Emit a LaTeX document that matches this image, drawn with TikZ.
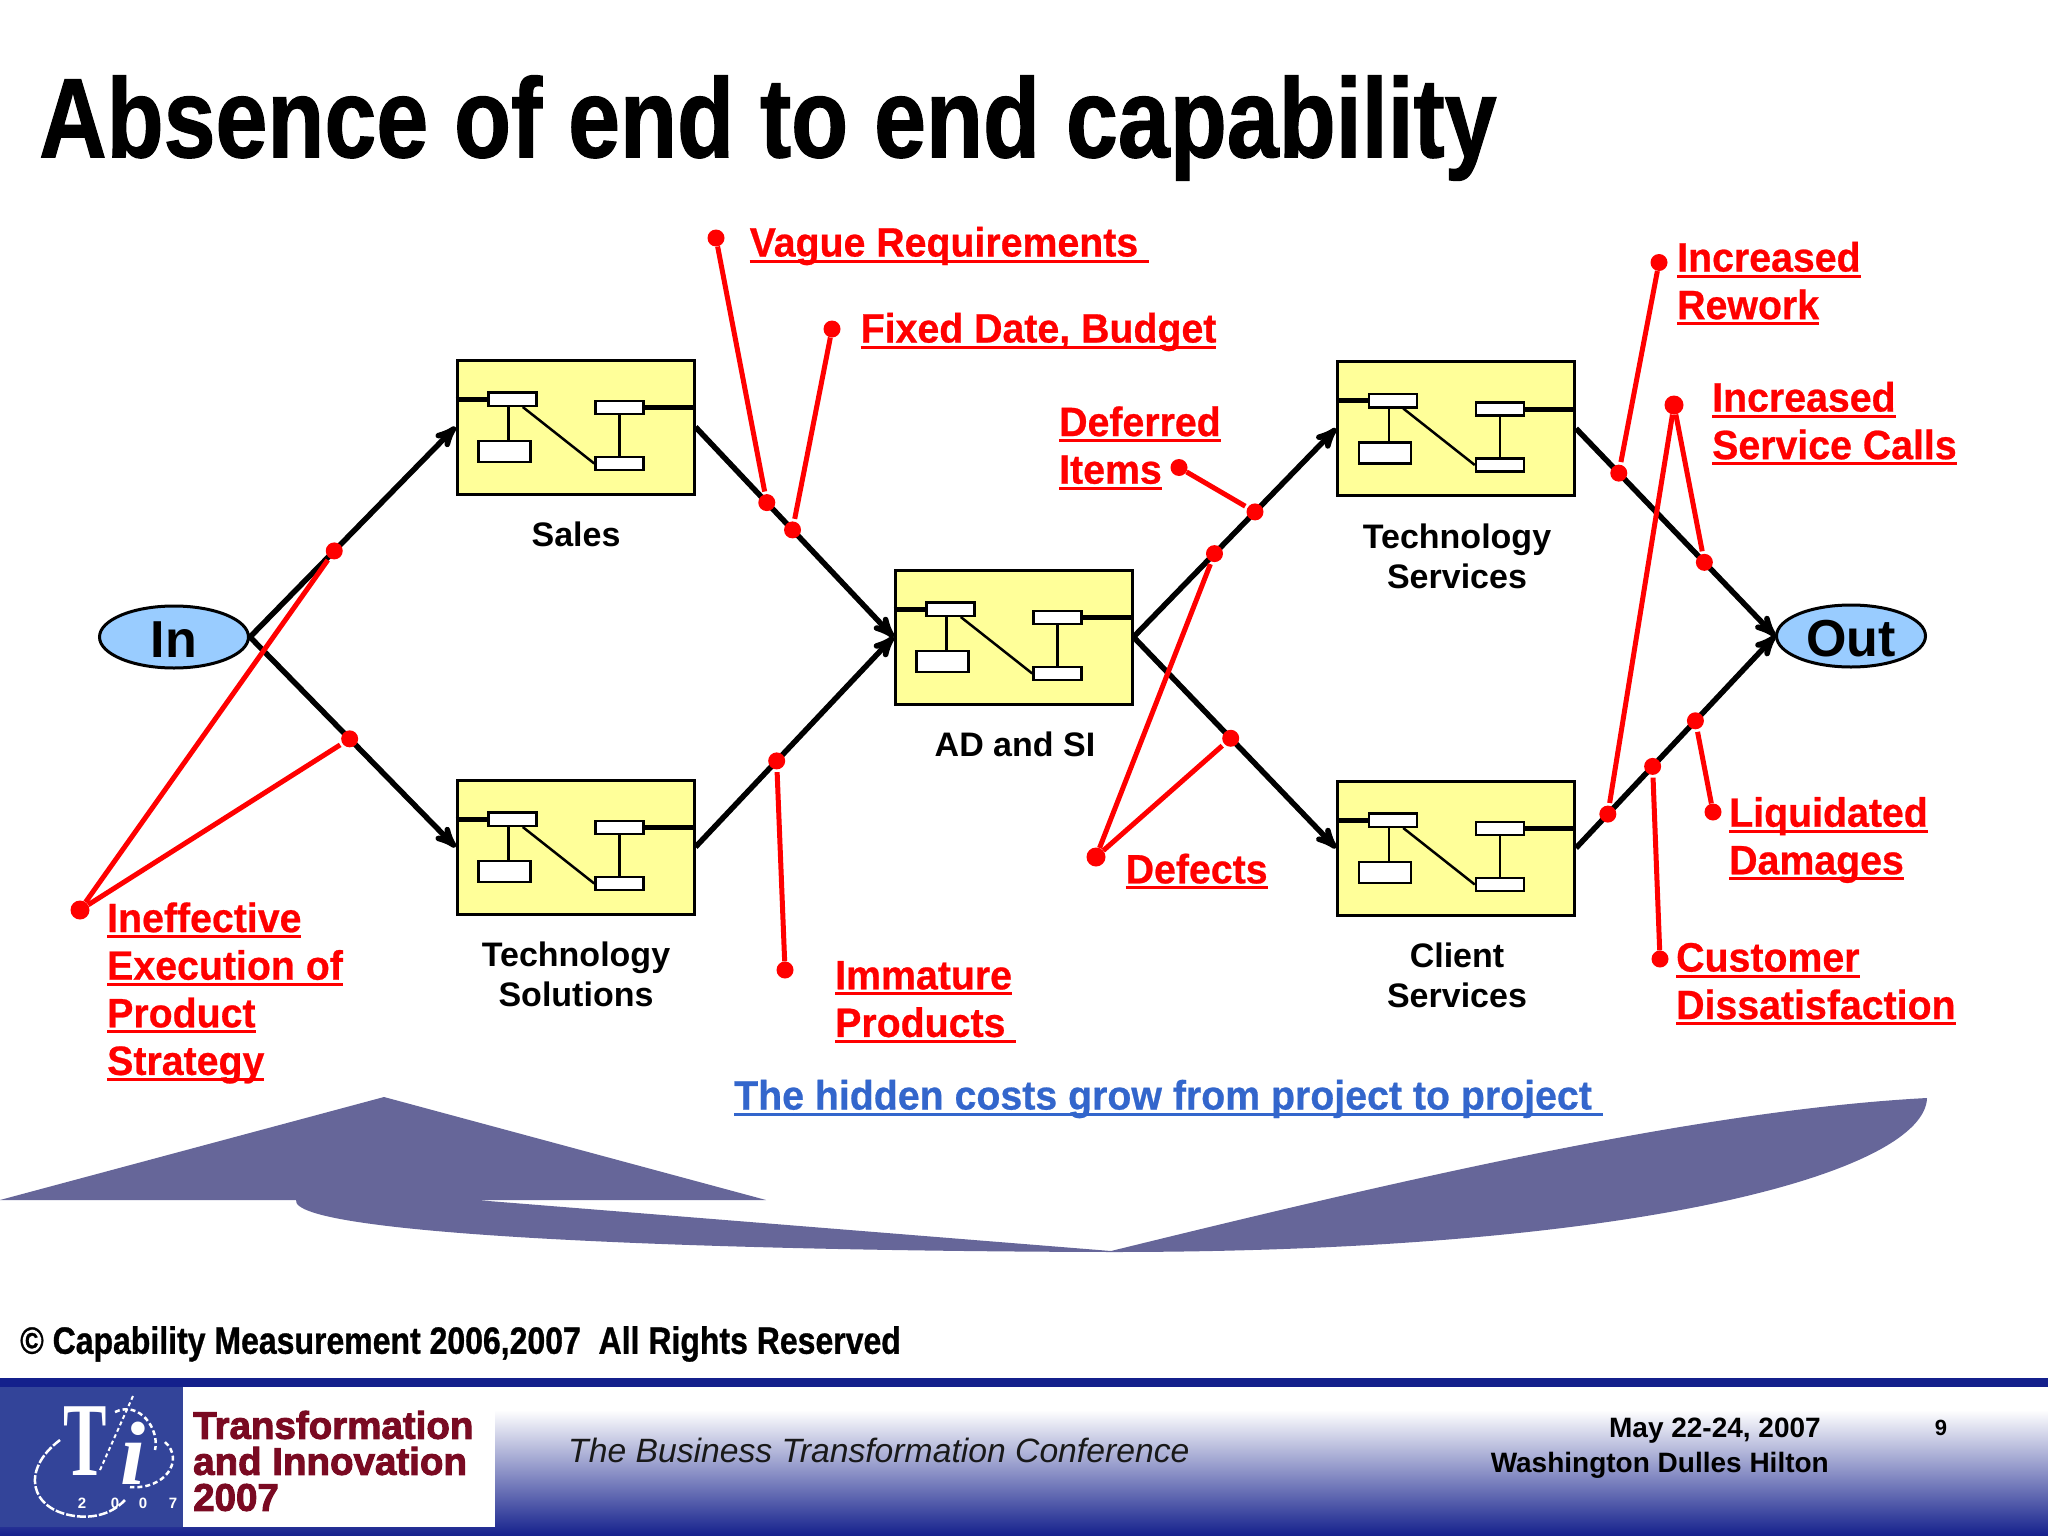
\documentclass[tikz,border=0pt]{standalone}
\usepackage{fontspec}
\usepackage{tikz}
\usetikzlibrary{arrows}
\usetikzlibrary{calc}
\usetikzlibrary{shapes.geometric}
\setmainfont{Liberation Sans}
\newfontfamily\titlefont[FakeStretch=0.826,FakeBold=1]{Liberation Sans Bold}
\newfontfamily\copyfont[FakeStretch=0.842,FakeBold=0.8]{Liberation Sans Bold}
\newfontfamily\labelfont[FakeStretch=0.958,FakeBold=0.6]{Liberation Sans Bold}
\newfontfamily\logofont[FakeBold=2.5]{Liberation Sans Bold}
\newfontfamily\logoserif[FakeStretch=0.62]{Liberation Serif Bold}
\newfontfamily\logoitalic{Liberation Serif Bold Italic}
\definecolor{boxyellow}{HTML}{FFFF99}
\definecolor{ovalblue}{HTML}{99CCFF}
\definecolor{hiddenblue}{HTML}{3366CC}
\definecolor{bigarrow}{HTML}{666699}
\definecolor{footerblue}{HTML}{14208C}
\definecolor{logoblue}{HTML}{334499}
\definecolor{logored}{HTML}{7A0A22}
\newcommand{\ruled}[1]{\setbox0\hbox{#1}\rlap{\rule[-6pt]{\wd0}{3pt}}\box0}
\tikzset{
	procbox/.style={draw,line width=3pt,fill=boxyellow,minimum width=237pt,minimum height=134pt,inner sep=0pt},
	innerbox/.style={draw,line width=2.5pt,fill=white,inner sep=0pt},
	flowline/.style={->,>=stealth',line width=5.5pt},
	redline/.style={draw=red,line width=5pt},
	reddot/.style={circle,fill=red,inner sep=0pt,minimum size=17pt},
	redlabel/.style={font=\labelfont\fontsize{41}{47.6}\selectfont,text=red,align=left,anchor=west,inner sep=0pt},
	boxlabel/.style={font=\fontsize{34}{40}\selectfont\bfseries,align=center,inner sep=0pt},
	endoval/.style={ellipse,draw,line width=3pt,fill=ovalblue,minimum width=149pt,minimum height=62pt,inner sep=0pt,font=\fontsize{52}{60}\selectfont\bfseries},
	pics/process/.style={code={
		\node[procbox] (-box) at (0,0) {};
		\node[innerbox,minimum width=48pt,minimum height=13.5pt] (-a) at (-63,-28) {};
		\node[innerbox,minimum width=52pt,minimum height=21pt] (-b) at (-71,24.5) {};
		\node[innerbox,minimum width=48pt,minimum height=13pt] (-c) at (44,-19.5) {};
		\node[innerbox,minimum width=48pt,minimum height=13pt] (-d) at (44,36.5) {};
		\draw[line width=5pt] (-box.west |- -a) -- (-a);
		\draw[line width=5pt] (-c) -- (-box.east |- -c);
		\draw[line width=2.5pt] (-a.south) ++(-4,0) -- ++(0,35);
		\draw[line width=2.5pt] (-a.south east) ++(-15,0) -- (-d.west);
		\draw[line width=2.5pt] (-c) -- (-d);
	}},
}
\begin{document}
\begin{tikzpicture}[x=1pt,y=-1pt]
	\useasboundingbox (0,0) rectangle (2048,1536);
	\fill[white] (0,0) rectangle (2048,1536);
	% title
	\node[anchor=west,inner sep=0pt,font=\titlefont\fontsize{113}{120}\selectfont] (title) at (39,128) {Absence of end to end capability};
	% big arrow
	\fill[bigarrow] (0,1200) -- (384,1097) -- (766,1200) -- (476,1200) -- (1111,1251)
		.. controls (1400,1180) and (1700,1110) .. (1927,1098)
		.. controls (1925,1170) and (1650,1252) .. (1111,1252)
		.. controls (700,1251) and (290,1235) .. (296,1200) -- cycle;
	% boxes
	\pic (sales) at (575.5,427) {process};
	\pic (tsol) at (575.5,847) {process};
	\pic (adsi) at (1013.5,637) {process};
	\pic (tsvc) at (1456,428.5) {process};
	\pic (csvc) at (1456,848) {process};
	\node[endoval] (in) at (174,637) {\raisebox{0pt}[40.5pt][0pt]{In}};
	\node[endoval] (out) at (1851,636) {\raisebox{0pt}[40.5pt][0pt]{Out}};
	\node[boxlabel] (lsales) at (576,534) {Sales};
	\node[boxlabel] (ltsol) at (576,974.5) {Technology\\Solutions};
	\node[boxlabel] (ladsi) at (1015,744) {AD and SI};
	\node[boxlabel] (ltsvc) at (1457,556) {Technology\\Services};
	\node[boxlabel] (lcsvc) at (1457,975) {Client\\Services};
	% flow
	\path[flowline]
	(in.east) edge node[reddot,pos=.41](ona){} (sales-box.west)
	(in.east) edge node[reddot,pos=.485](onb){} (tsol-box.west)
	(sales-box.east) edge node[reddot,pos=.36](onc){} node[reddot,pos=.49](ond){} (adsi-box.west)
	(tsol-box.east) edge node[reddot,pos=.41](one){} (adsi-box.west)
	(adsi-box.east) edge node[reddot,pos=.40](onf){} node[reddot,pos=.60](ong){} (tsvc-box.west)
	(adsi-box.east) edge node[reddot,pos=.48](onh){} (csvc-box.west)
	(tsvc-box.east) edge node[reddot,pos=.215](oni){} node[reddot,pos=.645](onj){} (out.west)
	(csvc-box.east) edge node[reddot,pos=.16](onk){} node[reddot,pos=.385](onl){} node[reddot,pos=.60](onm){} (out.west)
	;
	% red ends
	\node[reddot,minimum size=19pt] (dineff) at (80,910) {};
	\node[reddot] (dvague) at (716,238) {};
	\node[reddot] (dfixed) at (832,329) {};
	\node[reddot] (dimm) at (785,970) {};
	\node[reddot] (ddef) at (1179,467.5) {};
	\node[reddot,minimum size=19pt] (ddefects) at (1096,857) {};
	\node[reddot] (drework) at (1659,262.5) {};
	\node[reddot,minimum size=19pt] (dcalls) at (1674,405) {};
	\node[reddot] (dliq) at (1713,812) {};
	\node[reddot] (dcust) at (1660,959) {};
	\path[redline]
	(dineff) edge (ona)
	(dineff) edge (onb)
	(dvague) edge (onc)
	(dfixed) edge (ond)
	(dimm) edge (one)
	(ddef) edge (ong)
	(ddefects) edge (onf)
	(ddefects) edge (onh)
	(drework) edge (oni)
	(dcalls) edge (onj)
	(dcalls) edge (onk)
	(dliq) edge (onm)
	(dcust) edge (onl)
	;
	% red labels
	\node[redlabel] (tvague) at (749.5,246) {\ruled{Vague Requirements }};
	\node[redlabel] (tfixed) at (860.5,332) {\ruled{Fixed Date, Budget}};
	\node[redlabel] (tdef) at (1059,448) {\ruled{Deferred}\\\ruled{Items}};
	\node[redlabel] (tineff) at (107,993) {\ruled{Ineffective}\\\ruled{Execution of}\\\ruled{Product}\\\ruled{Strategy}};
	\node[redlabel] (timm) at (835,1002) {\ruled{Immature}\\\ruled{Products }};
	\node[redlabel] (tdefects) at (1125.5,871.5) {\ruled{Defects}};
	\node[redlabel] (trework) at (1677,283.5) {\ruled{Increased}\\\ruled{Rework}};
	\node[redlabel] (tcalls) at (1712,423.5) {\ruled{Increased}\\\ruled{Service Calls}};
	\node[redlabel] (tliq) at (1729,840) {\ruled{Liquidated}\\\ruled{Damages}};
	\node[redlabel] (tcust) at (1676,984) {\ruled{Customer}\\\ruled{Dissatisfaction}};
	\node[redlabel,text=hiddenblue] (thidden) at (734,1099) {\ruled{The hidden costs grow from project to project }};
	\node[anchor=west,inner sep=0pt,font=\copyfont\fontsize{38}{44}\selectfont] (tcopy) at (20,1344) {© Capability Measurement 2006,2007\ \ All Rights Reserved};
	% footer
	\shade[top color=white,bottom color=footerblue] (0,1410) rectangle (2048,1536);
	\fill[footerblue] (0,1378) rectangle (2048,1387);
	\fill[logoblue] (0,1387) rectangle (183,1527);
	\fill[white] (183,1387) rectangle (495,1527);
	\node[anchor=center,inner sep=0pt,text=white,font=\logoserif\fontsize{105}{110}\selectfont] (logot) at (85,1441) {T};
	\node[anchor=center,inner sep=0pt,text=white,font=\logoitalic\fontsize{90}{100}\selectfont] (logoi) at (133,1453) {i};
	\draw[white,line width=2.5pt,dash pattern=on 9pt off 2pt] (60,1440) .. controls (20,1470) and (30,1510) .. (75,1516) .. controls (90,1518) and (110,1516) .. (125,1500);
	\draw[white,line width=2.5pt,dash pattern=on 5pt off 3pt] (115,1412) .. controls (140,1400) and (160,1430) .. (155,1450);
	\draw[white,line width=2.5pt,dash pattern=on 5pt off 3pt] (165,1442) .. controls (185,1460) and (165,1490) .. (130,1487);
	\draw[white,line width=2pt,dash pattern=on 4pt off 3pt] (100,1470) -- (133,1396);
	\foreach \d/\x in {2/82,0/115,0/143,7/173}
		\node[text=white,inner sep=0pt,font=\fontsize{15}{18}\selectfont\bfseries] at (\x,1503) {\d};
	\node[anchor=west,inner sep=0pt,text=logored,font=\logofont\fontsize{38.5}{36}\selectfont,align=left] (logotext) at (193,1461) {Transformation\\and Innovation\\2007};
	\node[anchor=west,inner sep=0pt,text=black!90,font=\fontsize{33.7}{40}\selectfont\itshape] (tconf) at (568,1450) {The Business Transformation Conference};
	\node[anchor=east,inner sep=0pt,font=\fontsize{28}{34}\selectfont\bfseries] (tdate) at (1821,1430.5) {May 22-24, 2007};
	\node[anchor=east,inner sep=0pt,font=\fontsize{28}{34}\selectfont\bfseries] (tplace) at (1829,1465.5) {Washington Dulles Hilton};
	\node[inner sep=0pt,font=\fontsize{22}{26}\selectfont\bfseries] (tpage) at (1941,1428) {9};
\end{tikzpicture}
\end{document}
